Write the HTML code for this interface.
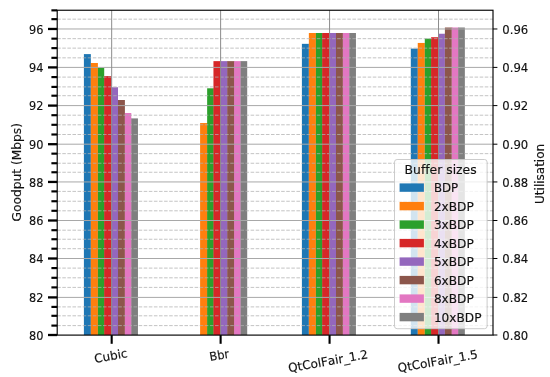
<!DOCTYPE html>
<html lang="en"><head><meta charset="utf-8"><title>Goodput and utilisation by buffer size</title>
<style>html,body{margin:0;padding:0;background:#fff;overflow:hidden}svg{display:block}text{font-family:"DejaVu Sans", "Liberation Sans", sans-serif;font-size:12px;fill:#111;stroke:#111;stroke-width:0.15px;font-variant-ligatures:none;font-kerning:none}</style></head><body>
<svg width="550" height="377" viewBox="0 0 550 377">
<rect width="550" height="377" fill="#fff"/>
<g shape-rendering="auto">
<rect x="83.90" y="54.10" width="6.95" height="281.00" fill="#1f77b4"/>
<rect x="90.80" y="63.00" width="0.6" height="272.10" fill="#1f77b4"/>
<rect x="90.85" y="63.00" width="7.05" height="272.10" fill="#ff7f0e"/>
<rect x="97.85" y="67.90" width="0.6" height="267.20" fill="#ff7f0e"/>
<rect x="97.90" y="67.90" width="6.30" height="267.20" fill="#2ca02c"/>
<rect x="104.15" y="76.07" width="0.6" height="259.03" fill="#2ca02c"/>
<rect x="104.20" y="76.07" width="7.15" height="259.03" fill="#d62728"/>
<rect x="111.30" y="87.25" width="0.6" height="247.85" fill="#d62728"/>
<rect x="111.35" y="87.25" width="6.65" height="247.85" fill="#9467bd"/>
<rect x="117.95" y="100.00" width="0.6" height="235.10" fill="#9467bd"/>
<rect x="118.00" y="100.00" width="6.90" height="235.10" fill="#8c564b"/>
<rect x="124.85" y="113.00" width="0.6" height="222.10" fill="#8c564b"/>
<rect x="124.90" y="113.00" width="6.40" height="222.10" fill="#e377c2"/>
<rect x="131.25" y="118.40" width="0.6" height="216.70" fill="#e377c2"/>
<rect x="131.30" y="118.40" width="6.65" height="216.70" fill="#7f7f7f"/>
<rect x="200.10" y="123.04" width="7.05" height="212.06" fill="#ff7f0e"/>
<rect x="207.10" y="123.04" width="0.6" height="212.06" fill="#ff7f0e"/>
<rect x="207.15" y="88.30" width="6.30" height="246.80" fill="#2ca02c"/>
<rect x="213.40" y="88.30" width="0.6" height="246.80" fill="#2ca02c"/>
<rect x="213.45" y="61.13" width="7.15" height="273.97" fill="#d62728"/>
<rect x="220.55" y="61.13" width="0.6" height="273.97" fill="#d62728"/>
<rect x="220.60" y="61.13" width="6.65" height="273.97" fill="#9467bd"/>
<rect x="227.20" y="61.13" width="0.6" height="273.97" fill="#9467bd"/>
<rect x="227.25" y="61.13" width="6.90" height="273.97" fill="#8c564b"/>
<rect x="234.10" y="61.13" width="0.6" height="273.97" fill="#8c564b"/>
<rect x="234.15" y="61.13" width="6.40" height="273.97" fill="#e377c2"/>
<rect x="240.50" y="61.13" width="0.6" height="273.97" fill="#e377c2"/>
<rect x="240.55" y="61.13" width="6.65" height="273.97" fill="#7f7f7f"/>
<rect x="301.90" y="43.84" width="6.95" height="291.26" fill="#1f77b4"/>
<rect x="308.80" y="43.84" width="0.6" height="291.26" fill="#1f77b4"/>
<rect x="308.85" y="33.00" width="7.05" height="302.10" fill="#ff7f0e"/>
<rect x="315.85" y="33.00" width="0.6" height="302.10" fill="#ff7f0e"/>
<rect x="315.90" y="33.00" width="6.30" height="302.10" fill="#2ca02c"/>
<rect x="322.15" y="33.00" width="0.6" height="302.10" fill="#2ca02c"/>
<rect x="322.20" y="33.00" width="7.15" height="302.10" fill="#d62728"/>
<rect x="329.30" y="33.00" width="0.6" height="302.10" fill="#d62728"/>
<rect x="329.35" y="33.00" width="6.65" height="302.10" fill="#9467bd"/>
<rect x="335.95" y="33.00" width="0.6" height="302.10" fill="#9467bd"/>
<rect x="336.00" y="33.00" width="6.90" height="302.10" fill="#8c564b"/>
<rect x="342.85" y="33.00" width="0.6" height="302.10" fill="#8c564b"/>
<rect x="342.90" y="33.00" width="6.40" height="302.10" fill="#e377c2"/>
<rect x="349.25" y="33.00" width="0.6" height="302.10" fill="#e377c2"/>
<rect x="349.30" y="33.00" width="6.65" height="302.10" fill="#7f7f7f"/>
<rect x="410.80" y="48.60" width="6.95" height="286.50" fill="#1f77b4"/>
<rect x="417.70" y="48.60" width="0.6" height="286.50" fill="#1f77b4"/>
<rect x="417.75" y="42.95" width="7.05" height="292.15" fill="#ff7f0e"/>
<rect x="424.75" y="42.95" width="0.6" height="292.15" fill="#ff7f0e"/>
<rect x="424.80" y="38.65" width="6.30" height="296.45" fill="#2ca02c"/>
<rect x="431.05" y="38.65" width="0.6" height="296.45" fill="#2ca02c"/>
<rect x="431.10" y="37.20" width="7.15" height="297.90" fill="#d62728"/>
<rect x="438.20" y="37.20" width="0.6" height="297.90" fill="#d62728"/>
<rect x="438.25" y="33.75" width="6.65" height="301.35" fill="#9467bd"/>
<rect x="444.85" y="33.75" width="0.6" height="301.35" fill="#9467bd"/>
<rect x="444.90" y="27.50" width="6.90" height="307.60" fill="#8c564b"/>
<rect x="451.75" y="27.50" width="0.6" height="307.60" fill="#8c564b"/>
<rect x="451.80" y="27.50" width="6.40" height="307.60" fill="#e377c2"/>
<rect x="458.15" y="27.50" width="0.6" height="307.60" fill="#e377c2"/>
<rect x="458.20" y="27.50" width="6.65" height="307.60" fill="#7f7f7f"/>
</g>
<g fill="none">
<line x1="57.20" x2="493.00" y1="325.60" y2="325.60" stroke="#b0b0b0" stroke-width="0.75" stroke-dasharray="3.55 1.54"/>
<line x1="57.20" x2="493.00" y1="315.80" y2="315.80" stroke="#b0b0b0" stroke-width="0.75" stroke-dasharray="3.55 1.54"/>
<line x1="57.20" x2="493.00" y1="306.90" y2="306.90" stroke="#b0b0b0" stroke-width="0.75" stroke-dasharray="3.55 1.54"/>
<line x1="57.20" x2="493.00" y1="297.40" y2="297.40" stroke="#a8a8a8" stroke-width="1"/>
<line x1="57.20" x2="493.00" y1="287.40" y2="287.40" stroke="#b0b0b0" stroke-width="0.75" stroke-dasharray="3.55 1.54"/>
<line x1="57.20" x2="493.00" y1="277.80" y2="277.80" stroke="#b0b0b0" stroke-width="0.75" stroke-dasharray="3.55 1.54"/>
<line x1="57.20" x2="493.00" y1="268.10" y2="268.10" stroke="#b0b0b0" stroke-width="0.75" stroke-dasharray="3.55 1.54"/>
<line x1="57.20" x2="493.00" y1="258.50" y2="258.50" stroke="#a8a8a8" stroke-width="1"/>
<line x1="57.20" x2="493.00" y1="248.70" y2="248.70" stroke="#b0b0b0" stroke-width="0.75" stroke-dasharray="3.55 1.54"/>
<line x1="57.20" x2="493.00" y1="239.24" y2="239.24" stroke="#b0b0b0" stroke-width="0.75" stroke-dasharray="3.55 1.54"/>
<line x1="57.20" x2="493.00" y1="230.20" y2="230.20" stroke="#b0b0b0" stroke-width="0.75" stroke-dasharray="3.55 1.54"/>
<line x1="57.20" x2="493.00" y1="220.50" y2="220.50" stroke="#a8a8a8" stroke-width="1"/>
<line x1="57.20" x2="493.00" y1="210.80" y2="210.80" stroke="#b0b0b0" stroke-width="0.75" stroke-dasharray="3.55 1.54"/>
<line x1="57.20" x2="493.00" y1="201.24" y2="201.24" stroke="#b0b0b0" stroke-width="0.75" stroke-dasharray="3.55 1.54"/>
<line x1="57.20" x2="493.00" y1="191.40" y2="191.40" stroke="#b0b0b0" stroke-width="0.75" stroke-dasharray="3.55 1.54"/>
<line x1="57.20" x2="493.00" y1="181.95" y2="181.95" stroke="#a8a8a8" stroke-width="1"/>
<line x1="57.20" x2="493.00" y1="172.26" y2="172.26" stroke="#b0b0b0" stroke-width="0.75" stroke-dasharray="3.55 1.54"/>
<line x1="57.20" x2="493.00" y1="163.24" y2="163.24" stroke="#b0b0b0" stroke-width="0.75" stroke-dasharray="3.55 1.54"/>
<line x1="57.20" x2="493.00" y1="153.65" y2="153.65" stroke="#b0b0b0" stroke-width="0.75" stroke-dasharray="3.55 1.54"/>
<line x1="57.20" x2="493.00" y1="144.20" y2="144.20" stroke="#a8a8a8" stroke-width="1"/>
<line x1="57.20" x2="493.00" y1="134.50" y2="134.50" stroke="#b0b0b0" stroke-width="0.75" stroke-dasharray="3.55 1.54"/>
<line x1="57.20" x2="493.00" y1="124.80" y2="124.80" stroke="#b0b0b0" stroke-width="0.75" stroke-dasharray="3.55 1.54"/>
<line x1="57.20" x2="493.00" y1="115.20" y2="115.20" stroke="#b0b0b0" stroke-width="0.75" stroke-dasharray="3.55 1.54"/>
<line x1="57.20" x2="493.00" y1="105.60" y2="105.60" stroke="#a8a8a8" stroke-width="1"/>
<line x1="57.20" x2="493.00" y1="95.70" y2="95.70" stroke="#b0b0b0" stroke-width="0.75" stroke-dasharray="3.55 1.54"/>
<line x1="57.20" x2="493.00" y1="86.90" y2="86.90" stroke="#b0b0b0" stroke-width="0.75" stroke-dasharray="3.55 1.54"/>
<line x1="57.20" x2="493.00" y1="77.10" y2="77.10" stroke="#b0b0b0" stroke-width="0.75" stroke-dasharray="3.55 1.54"/>
<line x1="57.20" x2="493.00" y1="67.40" y2="67.40" stroke="#a8a8a8" stroke-width="1"/>
<line x1="57.20" x2="493.00" y1="57.83" y2="57.83" stroke="#b0b0b0" stroke-width="0.75" stroke-dasharray="3.55 1.54"/>
<line x1="57.20" x2="493.00" y1="48.13" y2="48.13" stroke="#b0b0b0" stroke-width="0.75" stroke-dasharray="3.55 1.54"/>
<line x1="57.20" x2="493.00" y1="38.66" y2="38.66" stroke="#b0b0b0" stroke-width="0.75" stroke-dasharray="3.55 1.54"/>
<line x1="57.20" x2="493.00" y1="28.97" y2="28.97" stroke="#a8a8a8" stroke-width="1"/>
<line x1="57.20" x2="493.00" y1="19.16" y2="19.16" stroke="#b0b0b0" stroke-width="0.75" stroke-dasharray="3.55 1.54"/>
<line x1="111.68" x2="111.68" y1="10.24" y2="335.10" stroke="#8c8c8c" stroke-width="1"/>
<line x1="220.62" x2="220.62" y1="10.24" y2="335.10" stroke="#8c8c8c" stroke-width="1"/>
<line x1="329.57" x2="329.57" y1="10.24" y2="335.10" stroke="#8c8c8c" stroke-width="1"/>
<line x1="438.52" x2="438.52" y1="10.24" y2="335.10" stroke="#8c8c8c" stroke-width="1"/>
</g>
<g stroke="#000" fill="none">
<line x1="48.0" x2="57.20" y1="335.00" y2="335.00" stroke-width="2.3"/>
<line x1="493.00" x2="497.4" y1="335.00" y2="335.00" stroke-width="1"/>
<line x1="51.4" x2="57.20" y1="325.60" y2="325.60" stroke-width="2.15"/>
<line x1="51.4" x2="57.20" y1="315.80" y2="315.80" stroke-width="2.15"/>
<line x1="51.4" x2="57.20" y1="306.90" y2="306.90" stroke-width="2.15"/>
<line x1="48.0" x2="57.20" y1="297.40" y2="297.40" stroke-width="2.3"/>
<line x1="493.00" x2="497.4" y1="297.40" y2="297.40" stroke-width="1"/>
<line x1="51.4" x2="57.20" y1="287.40" y2="287.40" stroke-width="2.15"/>
<line x1="51.4" x2="57.20" y1="277.80" y2="277.80" stroke-width="2.15"/>
<line x1="51.4" x2="57.20" y1="268.10" y2="268.10" stroke-width="2.15"/>
<line x1="48.0" x2="57.20" y1="258.50" y2="258.50" stroke-width="2.3"/>
<line x1="493.00" x2="497.4" y1="258.50" y2="258.50" stroke-width="1"/>
<line x1="51.4" x2="57.20" y1="248.70" y2="248.70" stroke-width="2.15"/>
<line x1="51.4" x2="57.20" y1="239.24" y2="239.24" stroke-width="2.15"/>
<line x1="51.4" x2="57.20" y1="230.20" y2="230.20" stroke-width="2.15"/>
<line x1="48.0" x2="57.20" y1="220.50" y2="220.50" stroke-width="2.3"/>
<line x1="493.00" x2="497.4" y1="220.50" y2="220.50" stroke-width="1"/>
<line x1="51.4" x2="57.20" y1="210.80" y2="210.80" stroke-width="2.15"/>
<line x1="51.4" x2="57.20" y1="201.24" y2="201.24" stroke-width="2.15"/>
<line x1="51.4" x2="57.20" y1="191.40" y2="191.40" stroke-width="2.15"/>
<line x1="48.0" x2="57.20" y1="181.95" y2="181.95" stroke-width="2.3"/>
<line x1="493.00" x2="497.4" y1="181.95" y2="181.95" stroke-width="1"/>
<line x1="51.4" x2="57.20" y1="172.26" y2="172.26" stroke-width="2.15"/>
<line x1="51.4" x2="57.20" y1="163.24" y2="163.24" stroke-width="2.15"/>
<line x1="51.4" x2="57.20" y1="153.65" y2="153.65" stroke-width="2.15"/>
<line x1="48.0" x2="57.20" y1="144.20" y2="144.20" stroke-width="2.3"/>
<line x1="493.00" x2="497.4" y1="144.20" y2="144.20" stroke-width="1"/>
<line x1="51.4" x2="57.20" y1="134.50" y2="134.50" stroke-width="2.15"/>
<line x1="51.4" x2="57.20" y1="124.80" y2="124.80" stroke-width="2.15"/>
<line x1="51.4" x2="57.20" y1="115.20" y2="115.20" stroke-width="2.15"/>
<line x1="48.0" x2="57.20" y1="105.60" y2="105.60" stroke-width="2.3"/>
<line x1="493.00" x2="497.4" y1="105.60" y2="105.60" stroke-width="1"/>
<line x1="51.4" x2="57.20" y1="95.70" y2="95.70" stroke-width="2.15"/>
<line x1="51.4" x2="57.20" y1="86.90" y2="86.90" stroke-width="2.15"/>
<line x1="51.4" x2="57.20" y1="77.10" y2="77.10" stroke-width="2.15"/>
<line x1="48.0" x2="57.20" y1="67.40" y2="67.40" stroke-width="2.3"/>
<line x1="493.00" x2="497.4" y1="67.40" y2="67.40" stroke-width="1"/>
<line x1="51.4" x2="57.20" y1="57.83" y2="57.83" stroke-width="2.15"/>
<line x1="51.4" x2="57.20" y1="48.13" y2="48.13" stroke-width="2.15"/>
<line x1="51.4" x2="57.20" y1="38.66" y2="38.66" stroke-width="2.15"/>
<line x1="48.0" x2="57.20" y1="28.97" y2="28.97" stroke-width="2.3"/>
<line x1="493.00" x2="497.4" y1="28.97" y2="28.97" stroke-width="1"/>
<line x1="51.4" x2="57.20" y1="19.16" y2="19.16" stroke-width="2.15"/>
<line x1="51.4" x2="57.20" y1="10.36" y2="10.36" stroke-width="2.15"/>
<line x1="111.68" x2="111.68" y1="335.10" y2="343.8" stroke-width="2.1"/>
<line x1="220.62" x2="220.62" y1="335.10" y2="343.8" stroke-width="2.1"/>
<line x1="329.57" x2="329.57" y1="335.10" y2="343.8" stroke-width="2.1"/>
<line x1="438.52" x2="438.52" y1="335.10" y2="343.8" stroke-width="2.1"/>
<rect x="57.20" y="10.24" width="435.80" height="324.86" stroke-width="1.15"/>
</g>
<text x="43.4" y="339.65" text-anchor="end" textLength="14.4" lengthAdjust="spacingAndGlyphs">80</text>
<text x="502.3" y="339.65" textLength="25.9" lengthAdjust="spacingAndGlyphs">0.80</text>
<text x="43.4" y="302.05" text-anchor="end" textLength="14.4" lengthAdjust="spacingAndGlyphs">82</text>
<text x="502.3" y="302.05" textLength="25.9" lengthAdjust="spacingAndGlyphs">0.82</text>
<text x="43.4" y="263.15" text-anchor="end" textLength="14.4" lengthAdjust="spacingAndGlyphs">84</text>
<text x="502.3" y="263.15" textLength="25.9" lengthAdjust="spacingAndGlyphs">0.84</text>
<text x="43.4" y="225.15" text-anchor="end" textLength="14.4" lengthAdjust="spacingAndGlyphs">86</text>
<text x="502.3" y="225.15" textLength="25.9" lengthAdjust="spacingAndGlyphs">0.86</text>
<text x="43.4" y="186.60" text-anchor="end" textLength="14.4" lengthAdjust="spacingAndGlyphs">88</text>
<text x="502.3" y="186.60" textLength="25.9" lengthAdjust="spacingAndGlyphs">0.88</text>
<text x="43.4" y="148.85" text-anchor="end" textLength="14.4" lengthAdjust="spacingAndGlyphs">90</text>
<text x="502.3" y="148.85" textLength="25.9" lengthAdjust="spacingAndGlyphs">0.90</text>
<text x="43.4" y="110.25" text-anchor="end" textLength="14.4" lengthAdjust="spacingAndGlyphs">92</text>
<text x="502.3" y="110.25" textLength="25.9" lengthAdjust="spacingAndGlyphs">0.92</text>
<text x="43.4" y="72.05" text-anchor="end" textLength="14.4" lengthAdjust="spacingAndGlyphs">94</text>
<text x="502.3" y="72.05" textLength="25.9" lengthAdjust="spacingAndGlyphs">0.94</text>
<text x="43.4" y="34.17" text-anchor="end" textLength="14.4" lengthAdjust="spacingAndGlyphs">96</text>
<text x="502.3" y="34.17" textLength="25.9" lengthAdjust="spacingAndGlyphs">0.96</text>
<text transform="translate(20.55 172.2) rotate(-90)" text-anchor="middle" textLength="98.4" lengthAdjust="spacingAndGlyphs">Goodput (Mbps)</text>
<text transform="translate(543.9 173.9) rotate(-90)" text-anchor="middle" textLength="60.0" lengthAdjust="spacingAndGlyphs">Utilisation</text>
<text transform="translate(111.45 360.00) rotate(-10)" text-anchor="middle">Cubic</text>
<text transform="translate(220.00 359.30) rotate(-10)" text-anchor="middle" textLength="19.6" lengthAdjust="spacingAndGlyphs">Bbr</text>
<text transform="translate(328.80 365.30) rotate(-10)" text-anchor="middle">QtColFair_1.2</text>
<text transform="translate(438.40 365.30) rotate(-10)" text-anchor="middle">QtColFair_1.5</text>
<rect x="394.5" y="159.5" width="92.6" height="169.2" rx="2.6" fill="#fff" fill-opacity="0.8" stroke="#c6c6c6" stroke-opacity="0.9" stroke-width="1"/>
<text x="440.6" y="173.6" text-anchor="middle" textLength="72.0" lengthAdjust="spacingAndGlyphs">Buffer sizes</text>
<rect x="399.6" y="183.40" width="24.3" height="8.4" fill="#1f77b4"/>
<text x="433.9" y="192.25" textLength="24.2" lengthAdjust="spacingAndGlyphs">BDP</text>
<rect x="399.6" y="201.90" width="24.3" height="8.4" fill="#ff7f0e"/>
<text x="433.9" y="210.75" textLength="39.9" lengthAdjust="spacingAndGlyphs">2xBDP</text>
<rect x="399.6" y="220.40" width="24.3" height="8.4" fill="#2ca02c"/>
<text x="433.9" y="229.25" textLength="39.9" lengthAdjust="spacingAndGlyphs">3xBDP</text>
<rect x="399.6" y="238.90" width="24.3" height="8.4" fill="#d62728"/>
<text x="433.9" y="247.75" textLength="39.9" lengthAdjust="spacingAndGlyphs">4xBDP</text>
<rect x="399.6" y="257.40" width="24.3" height="8.4" fill="#9467bd"/>
<text x="433.9" y="266.25" textLength="39.9" lengthAdjust="spacingAndGlyphs">5xBDP</text>
<rect x="399.6" y="275.90" width="24.3" height="8.4" fill="#8c564b"/>
<text x="433.9" y="284.75" textLength="39.9" lengthAdjust="spacingAndGlyphs">6xBDP</text>
<rect x="399.6" y="294.40" width="24.3" height="8.4" fill="#e377c2"/>
<text x="433.9" y="303.25" textLength="39.9" lengthAdjust="spacingAndGlyphs">8xBDP</text>
<rect x="399.6" y="312.90" width="24.3" height="8.4" fill="#7f7f7f"/>
<text x="433.9" y="321.75" textLength="47.6" lengthAdjust="spacingAndGlyphs">10xBDP</text>
</svg></body></html>
